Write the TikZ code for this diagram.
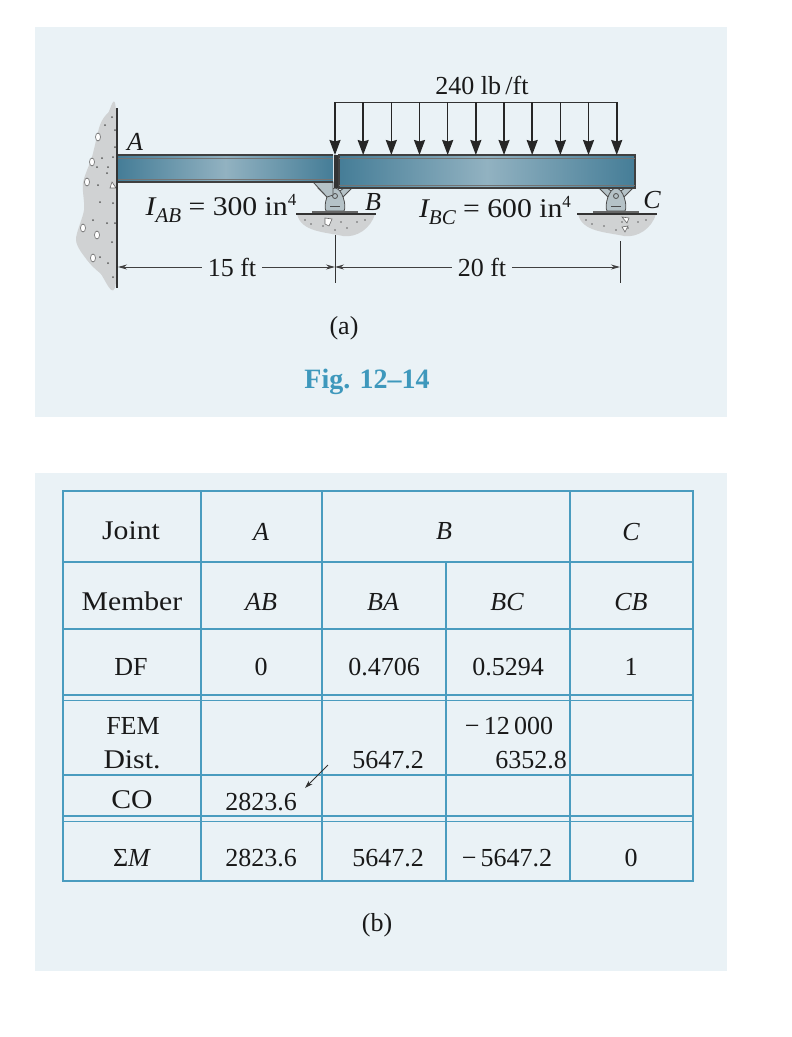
\documentclass[tikz,border=0pt]{standalone}
\usepackage{fontspec}
\setmainfont{Liberation Serif}
\newfontfamily\widefont[FakeStretch=1.1]{Liberation Serif}
\usetikzlibrary{arrows.meta,calc}
\definecolor{panelbg}{HTML}{EAF2F6}
\definecolor{tableline}{HTML}{4A9CBF}
\definecolor{figblue}{HTML}{3E98BC}
\definecolor{beamdark}{HTML}{457D97}
\definecolor{beamlight}{HTML}{92B2C1}
\definecolor{concrete}{HTML}{D0D2D3}
\definecolor{pingrey}{HTML}{B5C2C7}
\newcommand{\txtsize}{\fontsize{26}{28}\selectfont}
\newcommand{\bigsize}{\widefont\fontsize{27}{30}\selectfont}
\newcommand{\inertia}[3]{{\bigsize\itshape I}\raisebox{-7pt}{\fontsize{21}{22}\selectfont\itshape #1}{\bigsize{} = #2 in}\raisebox{10pt}{\fontsize{17}{18}\selectfont #3}}
\tikzset{
	tabtext/.style={anchor=base,inner sep=0pt,font=\txtsize,text=black!90},
	beamtext/.style={anchor=base,inner sep=0pt,font=\txtsize,text=black!90},
	tabline/.style={draw=tableline,line width=1.6pt},
	loadarrow/.style={-{Stealth[length=15pt,width=11pt,inset=1.5pt]},line width=1.6pt,black!85},
	dimarrow/.style={-{Stealth[length=9pt,width=5pt]},line width=0.9pt,black!75},
	dimtick/.style={line width=1pt,black!80},
	beamedge/.style={draw=black!75,line width=1.4pt},
	stone/.style={draw=black!60,fill=white,line width=0.6pt},
	pinpart/.style={fill=pingrey,draw=black!70,line width=0.8pt},
	pinsupport/.pic={
		\fill[concrete] (-38,0) .. controls (-34,18) and (-10,18) .. (8,22) .. controls (22,24) and (36,14) .. (40,0) -- cycle;
		\fill[pinpart] (-17,-26) -- (-9,-26) -- (-2,-21) -- (-4,-13) -- cycle;
		\fill[pinpart] (17,-26) -- (9,-26) -- (2,-21) -- (4,-13) -- cycle;
		\fill[pinpart] (0,-26) .. controls (7,-26) and (12,-8) .. (9,-3)
			-- (-9,-3) .. controls (-12,-8) and (-7,-26) .. (0,-26) -- cycle;
		\draw[black!70,line width=0.8pt] (0,-18) circle (2.5);
		\draw[black!70,line width=0.9pt] (-5,-8) -- (5,-8);
		\fill[black!60] (-23,-3) rectangle (23,0);
		\draw[black!80,line width=1.2pt] (-39,0) -- (41,0);
		\foreach \px/\py in {-30/6,-24/10,-12/12,6/8,12/14,22/8,30/6,0/16} {
			\fill[black!60] (\px,\py) circle (0.8);
		}
	}
}
\begin{document}
\begin{tikzpicture}[x=1pt,y=-1pt]
	\useasboundingbox (0,0) rectangle (792,1037);
	\fill[panelbg] (35,27) rectangle (727,417);
	\fill[panelbg] (35,473) rectangle (727,971);

	% wall
	\fill[concrete] plot[smooth cycle] coordinates {(116,112) (108,113) (100,125) (92,157) (83,183) (84,210) (76,240) (87,260) (100,273) (116,282)};
	\foreach \px/\py in {112/117,105/125,115/130,115/147,102/158,113/157,108/167,97/167,107/173,98/185,100/202,113/203,93/220,107/223,115/223,112/242,100/257,108/263,113/277} {
		\fill[black!65] (\px,\py) circle (1);
	}
	\foreach \px/\py in {98/137,92/162,87/182,97/235,83/228,93/258} {
		\draw[stone] (\px,\py) ellipse (2.5 and 4);
	}
	\draw[stone] (112,182) -- (116,188) -- (110,188) -- cycle;
	\draw[line width=1.5pt,black!80] (117,108) -- (117,288);

	% supports
	\pic at (335,214) {pinsupport};
	\pic at (616,214) {pinsupport};
	\fill[pinpart] (313,182) -- (333,182) -- (333,195) -- (327,197) -- cycle;
	\draw[stone] (325,218) -- (332,219) -- (329,226) -- (325,224) -- cycle;
	\draw[stone] (622,217) -- (629,218) -- (627,223) -- cycle;
	\draw[stone] (622,227) -- (628,226) -- (625,232) -- cycle;

	% beams
	\shade[left color=beamdark,right color=beamdark,middle color=beamlight] (118,155) rectangle (333,182);
	\shade[left color=beamdark,right color=beamdark,middle color=beamlight] (339,155) rectangle (635,188);
	\draw[beamedge] (118,155) -- (333,155);
	\draw[beamedge] (118,182) -- (333,182);
	\draw[black!55,line width=1pt] (118,158.5) -- (333,158.5);
	\draw[black!55,line width=0.8pt] (118,179) -- (333,179);
	\draw[beamedge] (339,155) rectangle (635,188);
	\draw[black!55,line width=1pt] (339,158.5) -- (635,158.5);
	\draw[black!55,line width=0.8pt] (339,185) -- (635,185);
	\fill[black!80] (334,155) rectangle (338,188);

	% load
	\node[beamtext] (load) at (482,94) {240 lb\,/ft};
	\draw[line width=1pt,black!80] (335,102) -- (616.7,102);
	\foreach \i in {0,...,10} {
		\coordinate (top\i) at ({335+28.17*\i},102);
		\coordinate (tip\i) at ({335+28.17*\i},155);
		\draw[loadarrow] (top\i) -- (tip\i);
	}

	\node[beamtext] (lblA) at (135,150) {\itshape A};
	\node[beamtext] (lblB) at (373,210) {\itshape B};
	\node[beamtext] (lblC) at (652,208) {\itshape C};
	\node[beamtext] (iab) at (221,215) {\inertia{AB}{300}{4}};
	\node[beamtext] (ibc) at (495,217) {\inertia{BC}{600}{4}};

	% dimensions
	\coordinate (dimA) at (118,267);
	\coordinate (dimBtop) at (335,235);
	\coordinate (dimBbot) at (335,283);
	\coordinate (dimB) at (335,267);
	\coordinate (dimCtop) at (620,241);
	\coordinate (dimCbot) at (620,283);
	\coordinate (dimC) at (620,267);
	\draw[dimtick] (dimBtop) -- (dimBbot);
	\draw[dimtick] (dimCtop) -- (dimCbot);
	\node[beamtext,anchor=center] (d15) at (232,267) {15 ft};
	\node[beamtext,anchor=center] (d20) at (482,267) {20 ft};
	\draw[dimarrow] ([xshift=-6pt]d15.west) -- (dimA);
	\draw[dimarrow] ([xshift=6pt]d15.east) -- (dimB);
	\draw[dimarrow] ([xshift=-6pt]d20.west) -- (dimB);
	\draw[dimarrow] ([xshift=6pt]d20.east) -- (dimC);

	\node[beamtext] (capa) at (344,334) {(a)};
	\node[anchor=base,inner sep=0pt,font=\fontsize{28}{30}\selectfont\bfseries,text=figblue] (figcap) at (367,388) {Fig. 12--14};

	% table
	\draw[tabline] (63,491) rectangle (693,881);
	\foreach \ly in {562,629,695,700.5,775,816,821.5} {
		\draw[tabline] (63,\ly) -- (693,\ly);
	}
	\foreach \lx in {201,322,570} {
		\draw[tabline] (\lx,491) -- (\lx,881);
	}
	\draw[tabline] (446,562) -- (446,881);

	\node[tabtext,font=\bigsize] (joint) at (131,539) {Joint};
	\node[tabtext] (jA) at (261,540) {\itshape A};
	\node[tabtext] (jB) at (444,539) {\itshape B};
	\node[tabtext] (jC) at (631,540) {\itshape C};

	\node[tabtext,font=\bigsize] (member) at (132,610) {Member};
	\node[tabtext] (mAB) at (261,610) {\itshape AB};
	\node[tabtext] (mBA) at (383,610) {\itshape BA};
	\node[tabtext] (mBC) at (507,610) {\itshape BC};
	\node[tabtext] (mCB) at (631,610) {\itshape CB};

	\node[tabtext] (df) at (131,675) {DF};
	\node[tabtext] (df0) at (261,675) {0};
	\node[tabtext] (dfBA) at (384,675) {0.4706};
	\node[tabtext] (dfBC) at (508,675) {0.5294};
	\node[tabtext] (df1) at (631,675) {1};

	\node[tabtext] (fem) at (133,734) {FEM};
	\node[tabtext] (femBC) at (509,734) {−\,12\,000};
	\node[tabtext,font=\bigsize] (dist) at (132,768) {Dist.};
	\node[tabtext] (distBA) at (388,768) {5647.2};
	\node[tabtext] (distBC) at (531,768) {6352.8};

	\node[tabtext,font=\bigsize] (co) at (132,808) {CO};
	\node[tabtext] (coAB) at (261,810) {2823.6};
	\coordinate (coStart) at (328,765);
	\coordinate (coEnd) at (305,788);
	\draw[-{Stealth[length=8pt,width=5pt]},line width=0.9pt,black!80] (coStart) -- (coEnd);

	\node[tabtext] (sum) at (132,866) {Σ\textit{M}};
	\node[tabtext] (sumAB) at (261,866) {2823.6};
	\node[tabtext] (sumBA) at (388,866) {5647.2};
	\node[tabtext] (sumBC) at (507,866) {−\,5647.2};
	\node[tabtext] (sumCB) at (631,866) {0};

	\node[beamtext] (capb) at (377,931) {(b)};
\end{tikzpicture}
\end{document}
